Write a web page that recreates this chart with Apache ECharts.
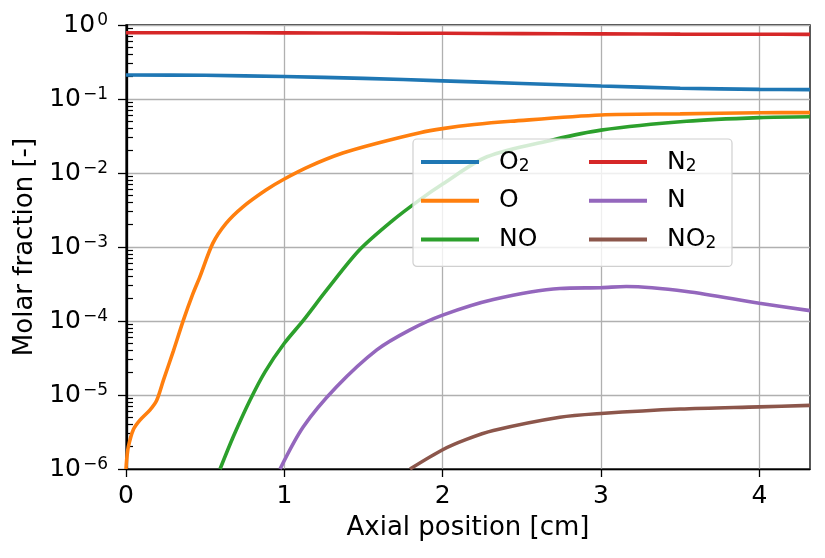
<!DOCTYPE html>
<html>
<head>
<meta charset="utf-8">
<style type="text/css">
	html, body{
		margin: 0;
		padding: 0;
		background: #fff;
	}
	#chart_box{
		width: 825px;
		height: 558px;
	}
</style>
<script type="text/javascript" src="https://cdn.jsdelivr.net/npm/echarts@6/dist/echarts.min.js"></script>
</head>
<body>
<div id="chart_box"></div>

<script type="text/javascript">
// axial position [cm] and molar fraction, one pair of arrays per species
var x_o2 = [0, 0.5, 1, 1.5, 2, 2.5, 3, 3.5, 4, 4.32];
var y_o2 = [0.211, 0.209, 0.201, 0.19, 0.176, 0.162, 0.150, 0.140, 0.135, 0.134];

var x_n2 = [0, 0.5, 1, 1.5, 2, 2.5, 3, 3.5, 4, 4.32];
var y_n2 = [0.787, 0.786, 0.783, 0.778, 0.772, 0.765, 0.758, 0.752, 0.749, 0.748];

var x_o = [0, 0.004, 0.015, 0.046, 0.088, 0.152, 0.194, 0.236, 0.30, 0.362, 0.421, 0.467,
	0.548, 0.632, 0.737, 0.884, 1.0, 1.158, 1.369, 1.58, 1.857, 2.0, 2.2, 2.43, 3.0, 3.5, 4.0, 4.32];
var y_o = [1.0e-6, 1.32e-6, 2.0e-6, 3.39e-6, 4.57e-6, 6.3e-6, 8.5e-6, 1.58e-5, 3.98e-5, 1.02e-4, 2.29e-4, 3.98e-4,
	1.12e-3, 2.09e-3, 3.47e-3, 5.89e-3, 8.3e-3, 1.23e-2, 1.86e-2, 2.51e-2, 3.51e-2, 3.98e-2, 4.52e-2, 5.0e-2, 6.08e-2, 6.3e-2, 6.53e-2, 6.55e-2];

var x_no = [0.594, 0.678, 0.783, 0.88, 1.0, 1.12, 1.268, 1.474, 1.685, 1.857, 2.0, 2.28, 2.70, 3.0, 3.54, 4.0, 4.32];
var y_no = [1.0e-6, 2.75e-6, 8.5e-6, 2.09e-5, 5.0e-5, 1.02e-4, 2.63e-4, 9.1e-4, 2.29e-3, 4.37e-3, 7.1e-3, 1.66e-2, 2.82e-2, 3.8e-2, 5.0e-2, 5.6e-2, 5.75e-2];

var x_n = [0.973, 1.12, 1.33, 1.584, 1.794, 2.0, 2.32, 2.74, 3.0, 3.16, 3.54, 4.0, 4.32];
var y_n = [1.0e-6, 3.72e-6, 1.29e-5, 4.07e-5, 7.59e-5, 1.2e-4, 1.95e-4, 2.75e-4, 2.82e-4, 2.92e-4, 2.51e-4, 1.74e-4, 1.38e-4];

var x_no2 = [1.794, 2.0, 2.15, 2.32, 2.74, 3.0, 3.5, 4.0, 4.32];
var y_no2 = [1.0e-6, 1.82e-6, 2.51e-6, 3.31e-6, 5.0e-6, 5.62e-6, 6.46e-6, 6.92e-6, 7.24e-6];

var x_ticks = [0, 1, 2, 3, 4];
// minor ticks 2..9 of every decade, given as log10 for the tick-only axis
var y_minor_ticks = [];
for (var e = -6; e < 0; e++) {
	for (var m = 2; m <= 9; m++) {
		y_minor_ticks.push(e + Math.log(m) / Math.LN10);
	}
}

var myChart = echarts.init(document.getElementById('chart_box'), null, {renderer: 'canvas'});

function zip(xs, ys) {
	return xs.map(function(x, i) { return [x, ys[i]]; });
}

function makeSeries(name, xs, ys, color) {
	return {
		name: name,
		type: 'line',
		data: zip(xs, ys),
		showSymbol: false,
		symbol: 'none',
		smooth: 0.3,
		lineStyle: {width: 3.6, color: color},
		itemStyle: {color: color},
		emphasis: {disabled: true},
		z: 2
	};
}

var font = 'DejaVu Sans';
var legendText = {
	fontFamily: font,
	fontSize: 25,
	color: '#000',
	lineHeight: 26,
	width: 60,
	padding: [0, 0, 0, 15],
	rich: {
		sub: {fontFamily: font, fontSize: 17, lineHeight: 17, verticalAlign: 'bottom', color: '#000'}
	}
};
function legendName(name) {
	return name.replace(/(\d+)$/, '{sub|$1}');
}

var option = {
	animation: false,
	grid: {
		left: 126,
		right: 15,
		top: 25,
		bottom: 89,
		show: true,
		borderColor: '#000',
		borderWidth: 1.3,
		backgroundColor: 'transparent'
	},
	legend: [
		{
			data: ['O2', 'O', 'NO'],
			orient: 'vertical',
			left: 413,
			top: 139,
			padding: [10, 173, 14, 8],
			itemWidth: 58,
			itemHeight: 4,
			itemGap: 12.7,
			icon: 'rect',
			selectedMode: false,
			backgroundColor: 'rgba(255,255,255,0.8)',
			borderColor: '#d0d0d0',
			borderWidth: 1.2,
			borderRadius: 4,
			textStyle: legendText,
			formatter: legendName,
			z: 4
		},
		{
			data: ['N2', 'N', 'NO2'],
			orient: 'vertical',
			left: 589,
			top: 149,
			padding: 0,
			itemWidth: 58,
			itemHeight: 4,
			itemGap: 12.7,
			icon: 'rect',
			selectedMode: false,
			textStyle: legendText,
			formatter: legendName,
			z: 5
		}
	],
	xAxis: {
		type: 'value',
		min: 0,
		max: 4.32,
		interval: 1,
		name: 'Axial position [cm]',
		nameLocation: 'middle',
		nameGap: 46,
		nameTextStyle: {fontFamily: font, fontSize: 26, color: '#000'},
		axisLine: {show: true, onZero: false, lineStyle: {color: '#000', width: 1.3}},
		axisTick: {show: true, inside: false, length: 8, customValues: x_ticks, lineStyle: {color: '#000', width: 1.3}},
		axisLabel: {fontFamily: font, fontSize: 25, color: '#000', margin: 15, customValues: x_ticks},
		splitLine: {show: true, lineStyle: {color: '#b0b0b0', width: 1.3}}
	},
	yAxis: [
		{
			type: 'log',
			logBase: 10,
			min: 1e-6,
			max: 1,
			interval: 1,
			position: 'left',
			name: 'Molar fraction [-]',
			nameLocation: 'middle',
			nameGap: 84,
			nameTextStyle: {fontFamily: font, fontSize: 26, color: '#000'},
			axisLine: {show: true, onZero: false, lineStyle: {color: '#000', width: 1.3}},
			axisTick: {show: true, inside: false, length: 8, lineStyle: {color: '#000', width: 1.3}},
			axisLabel: {
				margin: 18,
				fontFamily: font,
				color: '#000',
				formatter: function(v) {
					var p = Math.round(Math.log(v) / Math.LN10);
					return '{b|10}{s|' + (p < 0 ? '\u2212' + (-p) : p) + '}';
				},
				rich: {
					b: {fontFamily: font, fontSize: 25, lineHeight: 25, verticalAlign: 'bottom', color: '#000'},
					s: {fontFamily: font, fontSize: 17, lineHeight: 17, verticalAlign: 'top', color: '#000', padding: [0, 0, 10, 2]}
				}
			},
			splitLine: {show: true, lineStyle: {color: '#b0b0b0', width: 1.3}}
		},
		{
			// tick-only axis in log10 units for the minor ticks
			type: 'value',
			min: -6,
			max: 0,
			interval: 1,
			position: 'left',
			offset: -1,
			axisLine: {show: true, lineStyle: {color: '#000', width: 1.3}},
			axisLabel: {show: true, color: 'rgba(0,0,0,0)', customValues: [-5.5, -2.5]},
			splitLine: {show: false},
			axisTick: {show: true, inside: true, length: 6, customValues: y_minor_ticks, lineStyle: {color: '#000', width: 1.2}}
		}
	],
	series: [
		makeSeries('O2', x_o2, y_o2, '#1f77b4'),
		makeSeries('O', x_o, y_o, '#ff7f0e'),
		makeSeries('NO', x_no, y_no, '#2ca02c'),
		makeSeries('N2', x_n2, y_n2, '#d62728'),
		makeSeries('N', x_n, y_n, '#9467bd'),
		makeSeries('NO2', x_no2, y_no2, '#8c564b')
	]
};
myChart.setOption(option);
</script>
</body>
</html>
